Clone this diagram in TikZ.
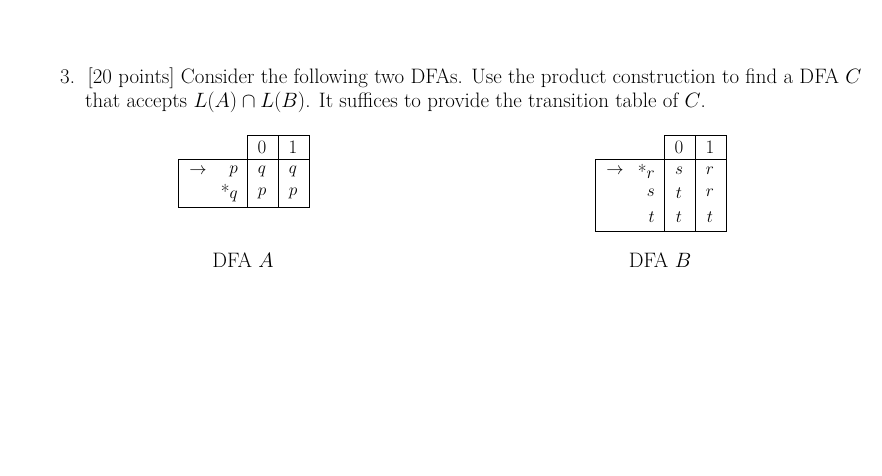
\documentclass[tikz,border=0pt]{standalone}
\begin{document}
\begin{tikzpicture}[x=1pt,y=-1pt,every node/.style={font=\fontsize{19}{24}\selectfont,inner sep=0pt},
 ln/.style={line width=0.8pt}, big/.style={font=\fontsize{20.9}{24}\selectfont}]
\useasboundingbox (0,0) rectangle (882,475);
\node[big,anchor=base west] (l1) at (60,83) {3.\ \ [20 points] Consider the following two DFAs. Use the product construction to find a DFA $C$};
\node[big,anchor=base west] (l2) at (85,107) {that accepts $L(A)\cap L(B)$. It suffices to provide the transition table of $C$.};
% table A
\draw[ln] (247,135) rectangle (309,159);
\draw[ln] (178,159) rectangle (309,207);
\draw[ln] (247,159) -- (247,207);
\draw[ln] (278,135) -- (278,207);
\node (a0) at (262,147) {0}; \node (a1) at (293,147) {1};
\node (ar) at (198,171) {$\rightarrow$};
\node[anchor=east] (ap) at (238,171) {$p$};
\node[anchor=east] (aq) at (238,193) {*$q$};
\node (apq) at (262,171) {$q$}; \node (apq2) at (293,171) {$q$};
\node (aqp) at (262,193) {$p$}; \node (aqp2) at (293,193) {$p$};
\node[big] (la) at (243,260) {DFA $A$};
% table B
\draw[ln] (664,135) rectangle (726,159);
\draw[ln] (595,159) rectangle (726,231);
\draw[ln] (664,159) -- (664,231);
\draw[ln] (695,135) -- (695,231);
\node (b0) at (679,147) {0}; \node (b1) at (710,147) {1};
\node (br) at (615,171) {$\rightarrow$};
\node[anchor=east] (bl1) at (655,171) {*$r$};
\node[anchor=east] (bl2) at (655,193) {$s$};
\node[anchor=east] (bl3) at (655,217) {$t$};
\node at (679,171) {$s$}; \node at (710,171) {$r$};
\node at (679,193) {$t$}; \node at (710,193) {$r$};
\node at (679,217) {$t$}; \node at (710,217) {$t$};
\node[big] (lb) at (660,260) {DFA $B$};
\end{tikzpicture}
\end{document}
